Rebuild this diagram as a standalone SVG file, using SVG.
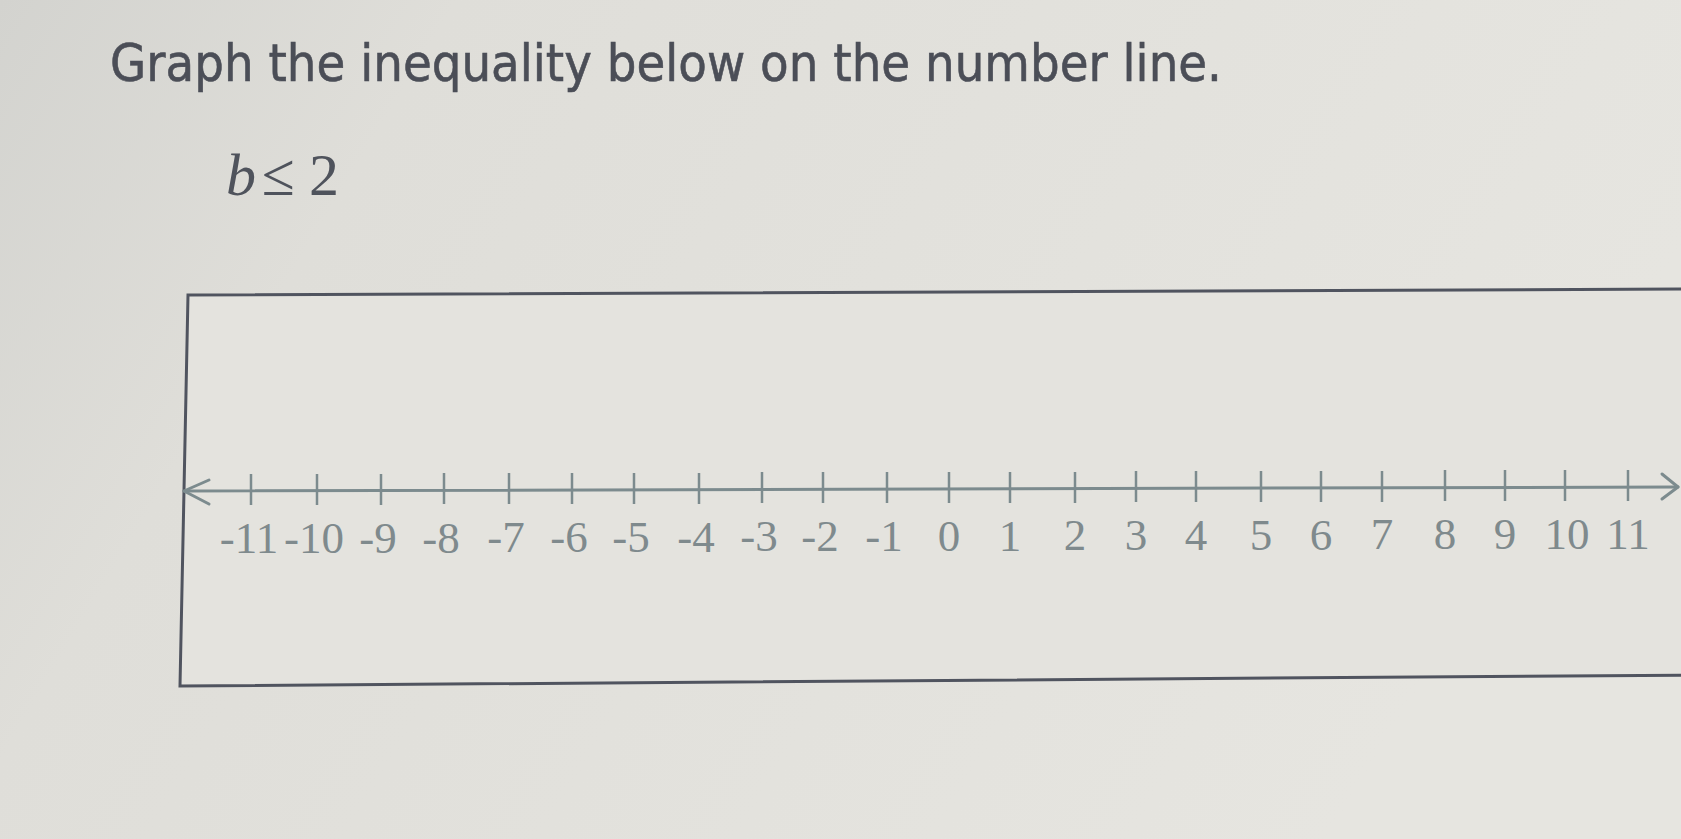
<svg xmlns="http://www.w3.org/2000/svg" width="1681" height="839" viewBox="0 0 1681 839">
<defs>
<linearGradient id="bg" x1="0" y1="0" x2="1" y2="0.3">
<stop offset="0" stop-color="#d3d3cf"/>
<stop offset="0.25" stop-color="#dfded9"/>
<stop offset="1" stop-color="#e6e5e0"/>
</linearGradient>
<style>
.title{font-family:"DejaVu Sans","Liberation Sans",sans-serif;font-size:51px;fill:#4b4e57;stroke:#4b4e57;stroke-width:0.6}
.math{font-family:"Liberation Serif",serif;font-size:60px;fill:#4f535c}
.lbl{font-family:"Liberation Serif",serif;font-size:45px;fill:#7f8a8d;text-anchor:middle}
.axis{stroke:#7c8b8e;stroke-width:3;fill:none;stroke-linecap:round;stroke-linejoin:round}
.tick{stroke:#7c8b8e;stroke-width:2.5}
.box{fill:#e4e3de;stroke:#50545f;stroke-width:3}
</style>
</defs>
<rect x="0" y="0" width="1681" height="839" fill="url(#bg)"/>
<g id="title">
<text class="title" x="110" y="81" textLength="1112" lengthAdjust="spacingAndGlyphs">Graph the inequality below on the number line.</text>
</g>
<g id="inequality">
<text class="math" x="226" y="195"><tspan font-style="italic">b</tspan><tspan x="262">≤</tspan><tspan x="309">2</tspan></text>
</g>
<g id="graph-box">
<polygon class="box" points="188,295 1700,289 1700,675 180,686"/>
</g>
<g id="connectors">
<path class="axis" d="M184,491 L1678,487"/>
<path class="axis" d="M209,480 L184,491 L209,504"/>
<path class="axis" d="M1662,474 L1678,487 L1662,499"/>
</g>
<g id="ticks">
<line class="tick" x1="251" y1="474" x2="251" y2="505"/>
<line class="tick" x1="317" y1="474" x2="317" y2="505"/>
<line class="tick" x1="381" y1="474" x2="381" y2="505"/>
<line class="tick" x1="444" y1="473" x2="444" y2="504"/>
<line class="tick" x1="509" y1="473" x2="509" y2="504"/>
<line class="tick" x1="572" y1="473" x2="572" y2="504"/>
<line class="tick" x1="634" y1="473" x2="634" y2="504"/>
<line class="tick" x1="699" y1="473" x2="699" y2="504"/>
<line class="tick" x1="762" y1="472" x2="762" y2="503"/>
<line class="tick" x1="823" y1="472" x2="823" y2="503"/>
<line class="tick" x1="887" y1="472" x2="887" y2="503"/>
<line class="tick" x1="949" y1="472" x2="949" y2="503"/>
<line class="tick" x1="1010" y1="472" x2="1010" y2="503"/>
<line class="tick" x1="1075" y1="472" x2="1075" y2="503"/>
<line class="tick" x1="1136" y1="471" x2="1136" y2="502"/>
<line class="tick" x1="1196" y1="471" x2="1196" y2="502"/>
<line class="tick" x1="1261" y1="471" x2="1261" y2="502"/>
<line class="tick" x1="1321" y1="471" x2="1321" y2="502"/>
<line class="tick" x1="1382" y1="471" x2="1382" y2="502"/>
<line class="tick" x1="1445" y1="470" x2="1445" y2="501"/>
<line class="tick" x1="1505" y1="470" x2="1505" y2="501"/>
<line class="tick" x1="1565" y1="470" x2="1565" y2="501"/>
<line class="tick" x1="1628" y1="470" x2="1628" y2="501"/>
</g>
<g id="labels">
<text class="lbl" x="249" y="553">-11</text>
<text class="lbl" x="314" y="553">-10</text>
<text class="lbl" x="378" y="553">-9</text>
<text class="lbl" x="441" y="553">-8</text>
<text class="lbl" x="506" y="552">-7</text>
<text class="lbl" x="569" y="552">-6</text>
<text class="lbl" x="631" y="552">-5</text>
<text class="lbl" x="696" y="552">-4</text>
<text class="lbl" x="759" y="551">-3</text>
<text class="lbl" x="820" y="551">-2</text>
<text class="lbl" x="884" y="551">-1</text>
<text class="lbl" x="949" y="551">0</text>
<text class="lbl" x="1010" y="551">1</text>
<text class="lbl" x="1075" y="550">2</text>
<text class="lbl" x="1136" y="550">3</text>
<text class="lbl" x="1196" y="550">4</text>
<text class="lbl" x="1261" y="550">5</text>
<text class="lbl" x="1321" y="550">6</text>
<text class="lbl" x="1382" y="549">7</text>
<text class="lbl" x="1445" y="549">8</text>
<text class="lbl" x="1505" y="549">9</text>
<text class="lbl" x="1567" y="549">10</text>
<text class="lbl" x="1628" y="549">11</text>
</g>
</svg>
